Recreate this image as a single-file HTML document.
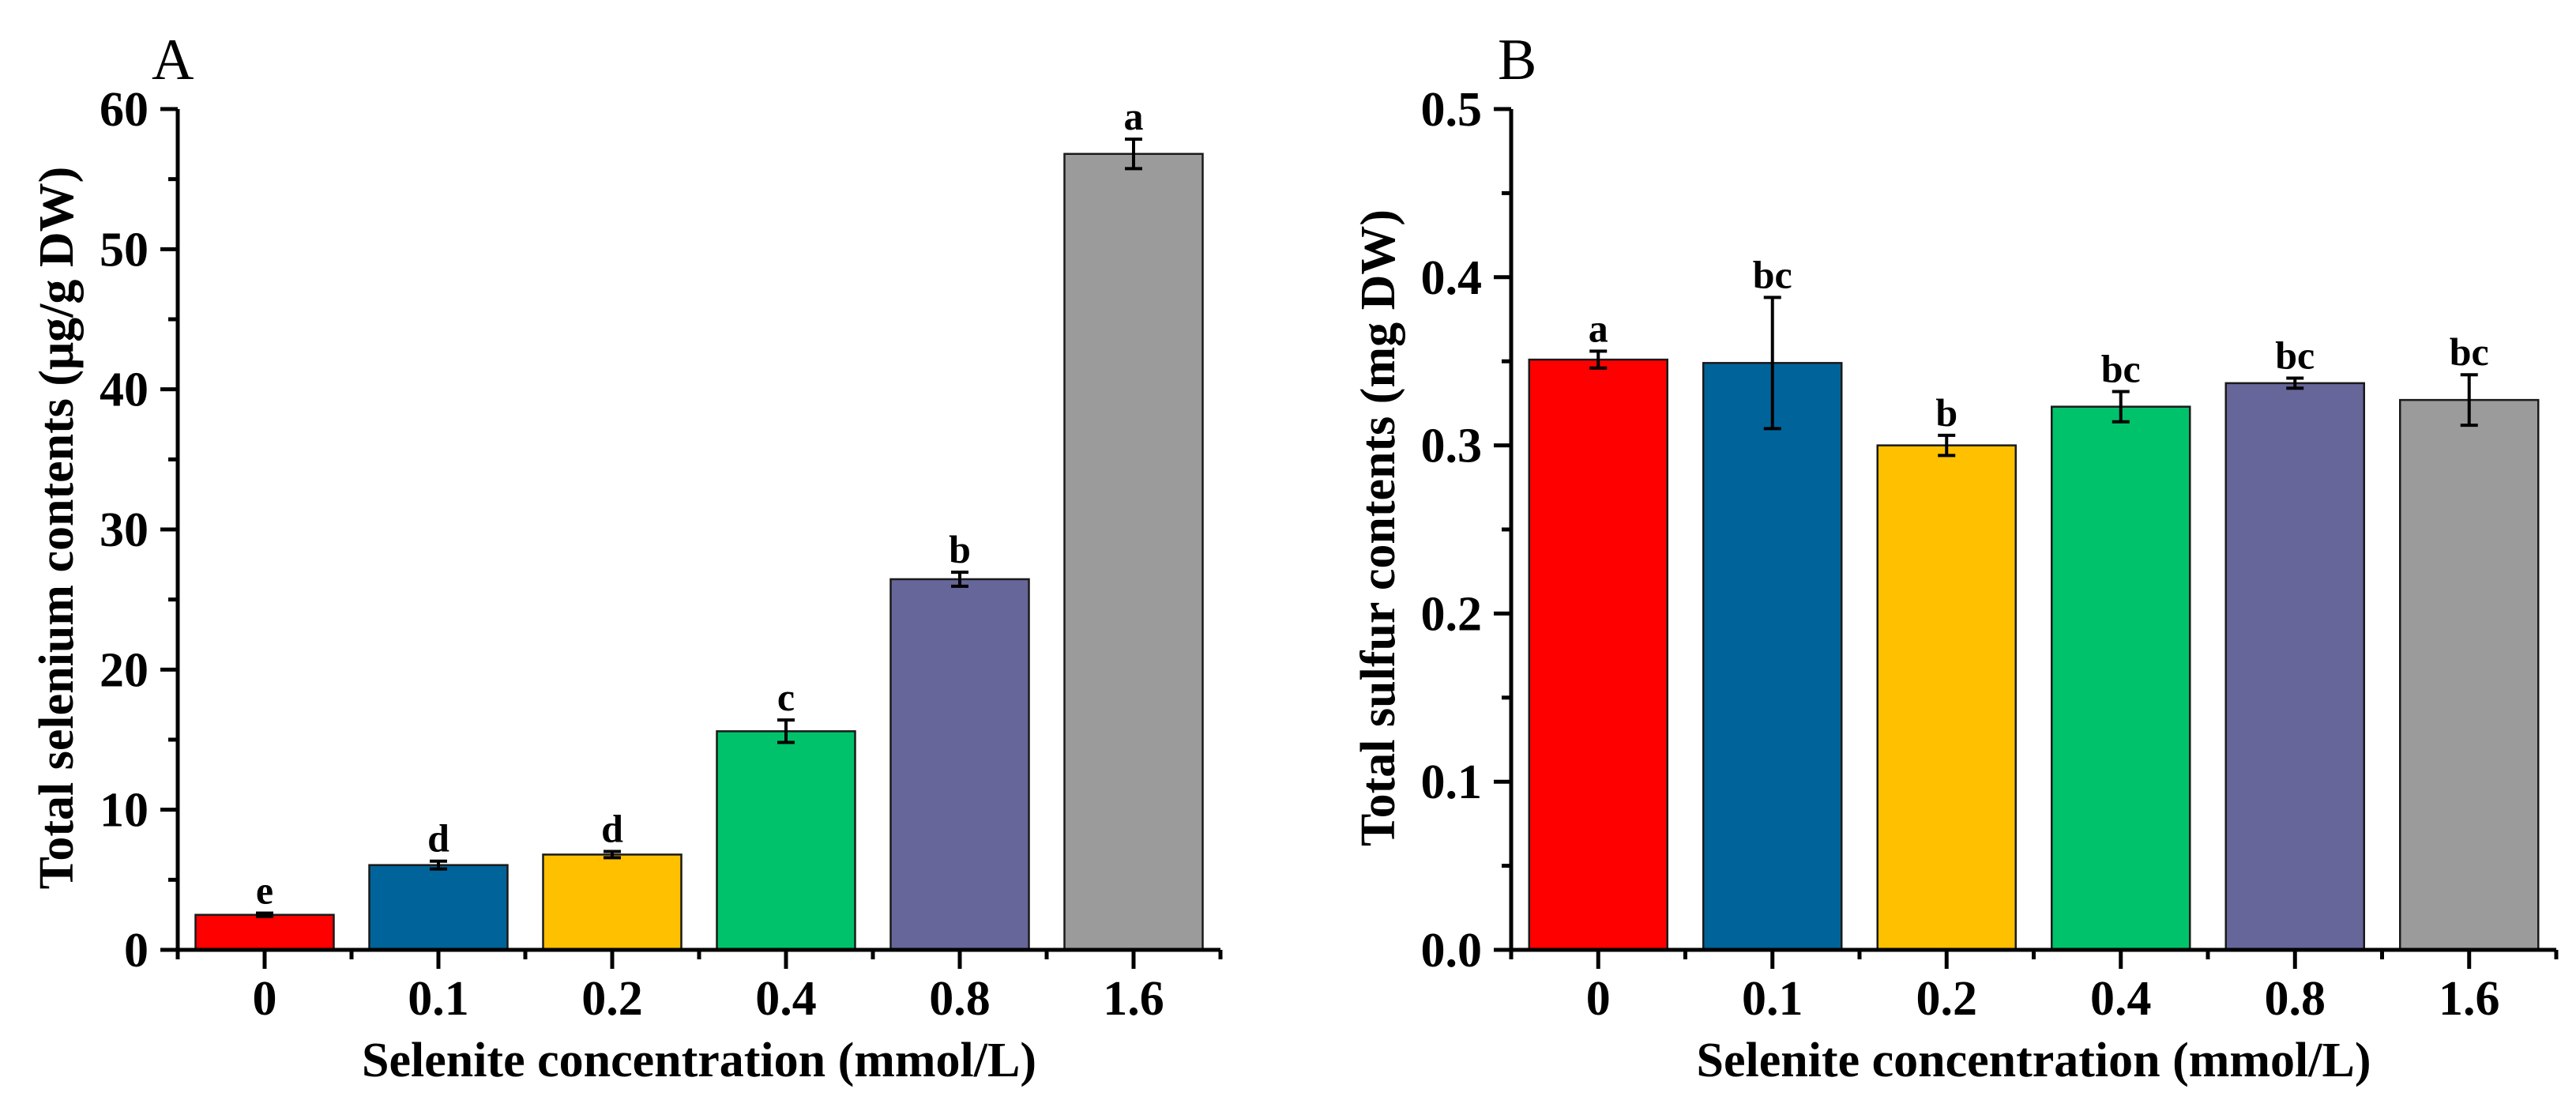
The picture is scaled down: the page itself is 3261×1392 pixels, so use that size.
<!DOCTYPE html>
<html><head><meta charset="utf-8">
<style>
html,body{margin:0;padding:0;background:#fff;}
svg{display:block;font-family:"Liberation Serif","Times New Roman",serif;}
</style></head>
<body>
<svg id="fig" width="3261" height="1392" viewBox="0 0 3261 1392" xmlns="http://www.w3.org/2000/svg"></svg>
<script>
const categories = ["0","0.1","0.2","0.4","0.8","1.6"];
const colors = ["#ff0000","#00649a","#ffc000","#00c26a","#67669a","#9b9b9b"];
const seValues = [2.5, 6.05, 6.8, 15.6, 26.45, 56.8];
const seErrors = [0.12, 0.28, 0.22, 0.8, 0.5, 1.05];
const seLetters = ["e","d","d","c","b","a"];
const seTicks = [0,10,20,30,40,50,60];
const sValues = [0.351, 0.349, 0.300, 0.323, 0.337, 0.327];
const sErrors = [0.005, 0.039, 0.006, 0.009, 0.003, 0.015];
const sLetters = ["a","bc","b","bc","bc","bc"];
const sTicks = [0.0,0.1,0.2,0.3,0.4,0.5];
const sTickLabels = ["0.0","0.1","0.2","0.3","0.4","0.5"];

const NS = "http://www.w3.org/2000/svg";
const svg = document.getElementById('fig');
function mk(tag, attrs, parent, text){
  const e = document.createElementNS(NS, tag);
  for (const k in attrs) e.setAttribute(k, attrs[k]);
  if (text !== undefined) e.textContent = text;
  (parent||svg).appendChild(e);
  return e;
}

function panel(opt){
  const g = mk('g', {});
  
  
  const x0 = opt.x0, x1 = opt.x1, yTop = 138, yBot = 1202;
  const band = (x1 - x0) / categories.length;
  const xc = i => x0 + band * (i + 0.5);
  const ys = v => yBot - (v - opt.min) / (opt.max - opt.min) * (yBot - yTop);
  const bw = 175;
  // bars
  opt.values.forEach((v, i) => {
    const r = mk('rect', {x: xc(i) - bw/2, y: ys(v), width: bw, height: yBot - ys(v), fill: colors[i], stroke: '#1a1a1a', 'stroke-width': 2.5}, g);
    
    
    const hi = ys(v + opt.errors[i]), lo = ys(v - opt.errors[i]);
    const eb = mk('path', {d: `M${xc(i)},${hi}V${lo}M${xc(i)-11},${hi}H${xc(i)+11}M${xc(i)-11},${lo}H${xc(i)+11}`, stroke: '#000', 'stroke-width': 4, fill: 'none'}, g);
    
    
    const t = mk('text', {x: xc(i), y: hi - 12, 'text-anchor': 'middle', 'font-size': 50, 'font-weight': 'bold'}, g, opt.letters[i]);
    
    
  });
  // axes
  const ax = mk('path', {d: `M${x0},${yTop}V${yBot}H${x1}`, stroke: '#000', 'stroke-width': 5, fill: 'none'}, g);
  
  
  // y ticks
  opt.ticks.forEach((v, i) => {
    mk('line', {x1: x0 - 22, x2: x0, y1: ys(v), y2: ys(v), stroke: '#000', 'stroke-width': 5}, g);
    const t = mk('text', {x: x0 - 37, y: ys(v) + 21, 'text-anchor': 'end', 'font-size': 62, 'font-weight': 'bold'}, g, opt.tickLabels[i]);
    
    
    if (i < opt.ticks.length - 1) {
      const m = (v + opt.ticks[i+1]) / 2;
      mk('line', {x1: x0 - 12, x2: x0, y1: ys(m), y2: ys(m), stroke: '#000', 'stroke-width': 5}, g);
    }
  });
  // x ticks
  categories.forEach((c, i) => {
    mk('line', {x1: xc(i), x2: xc(i), y1: yBot, y2: yBot + 24, stroke: '#000', 'stroke-width': 5}, g);
    mk('line', {x1: x0 + band * (i + 1), x2: x0 + band * (i + 1), y1: yBot, y2: yBot + 12, stroke: '#000', 'stroke-width': 5}, g);
    const t = mk('text', {x: xc(i), y: 1284, 'text-anchor': 'middle', 'font-size': 62, 'font-weight': 'bold'}, g, c);
    
    
  });
  mk('line', {x1: x0, x2: x0, y1: yBot, y2: yBot + 12, stroke: '#000', 'stroke-width': 5}, g);
  const xt = mk('text', {x: (x0 + x1) / 2, y: 1362, 'text-anchor': 'middle', 'font-size': 62, 'font-weight': 'bold'}, g, 'Selenite concentration (mmol/L)');
  
  
  const yt = mk('text', {x: 0, y: 0, transform: `translate(${opt.ytx},668) rotate(-90)`, 'text-anchor': 'middle', 'font-size': 62, 'font-weight': 'bold'}, g, opt.ytitle);
  
  
  const pl = mk('text', {x: opt.lx, y: 100, 'font-size': 74}, g, opt.letter);
  
  
}

panel({name: 'panel-a-selenium-chart', x0: 225, x1: 1545, min: 0, max: 60, values: seValues, errors: seErrors, letters: seLetters,
  ticks: seTicks, tickLabels: seTicks.map(String), ytitle: 'Total selenium contents (μg/g DW)', ytx: 92, lx: 192, letter: 'A'});
panel({name: 'panel-b-sulfur-chart', x0: 1913, x1: 3236, min: 0, max: 0.5, values: sValues, errors: sErrors, letters: sLetters,
  ticks: sTicks, tickLabels: sTickLabels, ytitle: 'Total sulfur contents (mg DW)', ytx: 1765, lx: 1896, letter: 'B'});
</script>
</body></html>
